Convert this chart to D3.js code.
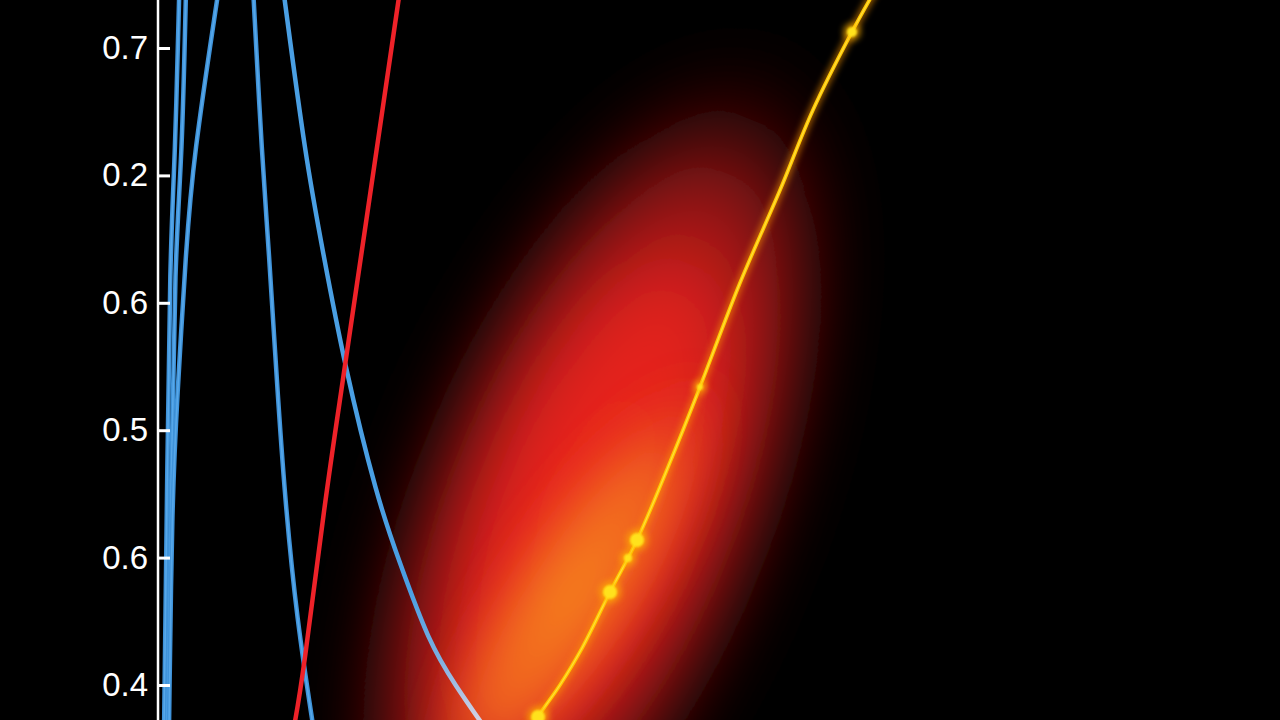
<!DOCTYPE html>
<html>
<head>
<meta charset="utf-8">
<script src="https://cdn.jsdelivr.net/npm/d3@7"></script>
<style>
  html, body { margin: 0; padding: 0; background: #000; }
  svg { display: block; }
</style>
</head>
<body>
<svg id="chart" width="1280" height="720"></svg>
<script>
// ---- data ----
const tickIndex = [0, 1, 2, 3, 4, 5];
const tickLabels = ["0.4", "0.6", "0.5", "0.6", "0.2", "0.7"];

const blue1 = [[0.19,5.45],[0.152,4.121],[0.107,3.414],[0.08,1.452],[0.054,-0.35]];
const blue2 = [[0.25,5.45],[0.214,4.121],[0.152,3.414],[0.116,1.452],[0.08,-0.35]];
const blue3 = [[0.54,5.45],[0.3125,4.121],[0.25,3.414],[0.17,2.237],[0.125,1.452],[0.098,-0.35]];
const blue4 = [[0.85,5.45],[0.93,4.121],[0.99,3.414],[1.06,2.394],[1.134,1.452],[1.24,0.510],[1.39,-0.35]];
const blue5 = [[1.12,5.45],[1.32,4.121],[1.47,3.414],[1.66,2.527],[1.96,1.452],[2.15,0.981],[2.42,0.330],[2.652,0],[2.93,-0.35]];
const redLine = [[2.16,5.45],[1.821,3.414],[1.625,2.237],[1.491,1.452],[1.295,0.063],[1.21,-0.35]];
const yellowLine = [[3.34,-0.35],[3.393,-0.251],[3.589,0.0],[3.786,0.29],[4.036,0.730],[4.277,1.138],[4.616,1.845],[4.839,2.339],[5.196,3.155],[5.554,3.885],[5.848,4.513],[6.196,5.126],[6.40,5.45]];
const yellowDots = [[3.393,-0.251,7],[4.036,0.730,7],[4.196,0.997,4],[4.277,1.138,7],[4.839,2.339,3],[6.196,5.126,5]];
const glowRed = [3.88, 1.40];
const glowOrange = [3.70, 0.72];

// ---- scales ----
const W = 1280, H = 720;
const x = d3.scaleLinear().domain([0, 10]).range([158, 1278]);
const y = d3.scaleLinear().domain([0, 5]).range([685, 48]);

const svg = d3.select("#chart");
svg.append("rect").attr("width", W).attr("height", H).attr("fill", "#000");

const defs = svg.append("defs");
defs.append("clipPath").attr("id", "clip").append("rect")
  .attr("x", 160).attr("y", 0).attr("width", W - 160).attr("height", H);

function blurFilter(id, sd) {
  const f = defs.append("filter").attr("id", id)
    .attr("x", "-50%").attr("y", "-50%").attr("width", "200%").attr("height", "200%");
  f.append("feGaussianBlur").attr("stdDeviation", sd);
}
blurFilter("blurBig", 32);
blurFilter("blurMid", 20);
blurFilter("blurSmall", 3);
blurFilter("blurTiny", 1.2);

const rg = defs.append("radialGradient").attr("id", "gRed");
[[0, "#ec2a1e", 1], [0.45, "#e0201c", 1], [0.72, "#9a1616", 0.8], [1, "#200404", 0]]
  .forEach(s => rg.append("stop").attr("offset", s[0]).attr("stop-color", s[1]).attr("stop-opacity", s[2]));
const og = defs.append("radialGradient").attr("id", "gOrange");
[[0, "#f5841e", 1], [0.55, "#f26a20", 0.85], [1, "#e83020", 0]]
  .forEach(s => og.append("stop").attr("offset", s[0]).attr("stop-color", s[1]).attr("stop-opacity", s[2]));

const b5g = defs.append("linearGradient").attr("id", "gBlue5")
  .attr("gradientUnits", "userSpaceOnUse")
  .attr("x1", 0).attr("x2", 0).attr("y1", y(0.75)).attr("y2", y(-0.3));
[[0, "#4a9fe3"], [0.5, "#7aaee0"], [1, "#d8d4e4"]]
  .forEach(s => b5g.append("stop").attr("offset", s[0]).attr("stop-color", s[1]));

const plot = svg.append("g").attr("clip-path", "url(#clip)");

// glow
plot.append("ellipse")
  .attr("cx", 0).attr("cy", 0).attr("rx", 200).attr("ry", 500)
  .attr("transform", `translate(${x(glowRed[0])},${y(glowRed[1])}) rotate(22)`)
  .attr("fill", "url(#gRed)").attr("filter", "url(#blurBig)");
plot.append("ellipse")
  .attr("cx", 0).attr("cy", 0).attr("rx", 80).attr("ry", 270)
  .attr("transform", `translate(${x(glowOrange[0])},${y(glowOrange[1])}) rotate(33)`)
  .attr("fill", "url(#gOrange)").attr("filter", "url(#blurMid)");

const smooth = d3.line().x(d => x(d[0])).y(d => y(d[1])).curve(d3.curveBasis);
const through = d3.line().x(d => x(d[0])).y(d => y(d[1])).curve(d3.curveCatmullRom.alpha(0.5));

// blue curves
[blue1, blue2, blue3, blue4].forEach(d => {
  plot.append("path").attr("d", smooth(d)).attr("fill", "none")
    .attr("stroke", "#3f93da").attr("stroke-width", 4.5).attr("stroke-linecap", "round");
  plot.append("path").attr("d", smooth(d)).attr("fill", "none")
    .attr("stroke", "#63b1ef").attr("stroke-width", 1.6).attr("opacity", 0.7);
});
plot.append("path").attr("d", smooth(blue5)).attr("fill", "none")
  .attr("stroke", "url(#gBlue5)").attr("stroke-width", 4.5);

// red line
plot.append("path").attr("d", smooth(redLine)).attr("fill", "none")
  .attr("stroke", "#ee2229").attr("stroke-width", 4.5);

// yellow line with glow
plot.append("path").attr("d", through(yellowLine)).attr("fill", "none")
  .attr("stroke", "#ff9a00").attr("stroke-width", 8).attr("opacity", 0.55).attr("filter", "url(#blurSmall)");
plot.append("path").attr("d", through(yellowLine)).attr("fill", "none")
  .attr("stroke", "#ffc800").attr("stroke-width", 3.6);
plot.append("path").attr("d", through(yellowLine)).attr("fill", "none")
  .attr("stroke", "#ffe24a").attr("stroke-width", 1.2).attr("opacity", 0.8);

plot.selectAll("circle.glow").data(yellowDots).join("circle")
  .attr("cx", d => x(d[0])).attr("cy", d => y(d[1])).attr("r", d => d[2] + 4)
  .attr("fill", "#ffb400").attr("opacity", 0.6).attr("filter", "url(#blurSmall)");
plot.selectAll("circle.dot").data(yellowDots).join("circle")
  .attr("cx", d => x(d[0])).attr("cy", d => y(d[1])).attr("r", d => d[2])
  .attr("fill", "#ffe21a").attr("filter", "url(#blurTiny)");

// axis
svg.append("line").attr("x1", 158).attr("x2", 158).attr("y1", 0).attr("y2", H)
  .attr("stroke", "#fff").attr("stroke-width", 2.5);
const axis = d3.axisLeft(y).tickValues(tickIndex).tickFormat((d, i) => tickLabels[i])
  .tickSizeInner(-12).tickSizeOuter(0).tickPadding(10);
const ag = svg.append("g").attr("transform", "translate(158,0)").call(axis);
ag.select(".domain").remove();
ag.selectAll(".tick line").attr("stroke", "#fff").attr("stroke-width", 3);
ag.selectAll(".tick text").attr("fill", "#fff")
  .attr("font-family", "'Liberation Sans', Arial, sans-serif").attr("font-size", 33);
</script>
</body>
</html>
